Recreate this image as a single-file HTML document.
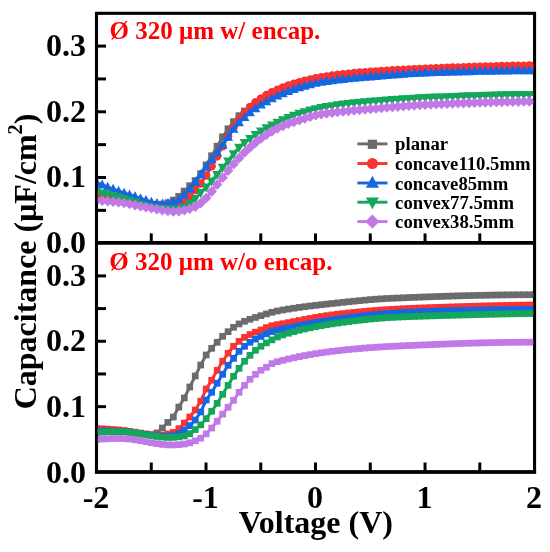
<!DOCTYPE html>
<html><head><meta charset="utf-8"><title>C-V</title>
<style>html,body{margin:0;padding:0;background:#fff}svg{display:block}</style>
</head><body>
<svg width="550" height="552" viewBox="0 0 550 552">
<defs><clipPath id="ca"><rect x="97.85" y="13.3" width="435.35" height="458.7"/></clipPath></defs>
<rect width="550" height="552" fill="#fff"/>
<g stroke="#000" stroke-width="3.1" fill="none" stroke-linecap="butt">
<rect x="96.5" y="13.3" width="438.05" height="458.70"/>
<line x1="94.95" y1="472.0" x2="536.0999999999999" y2="472.0" stroke-width="3.5"/>
<line x1="96.5" y1="242.9" x2="534.55" y2="242.9" stroke-width="3.7"/>
<line x1="96.5" y1="210.35" x2="106.0" y2="210.35" stroke-width="3"/>
<line x1="96.5" y1="177.50" x2="106.0" y2="177.50" stroke-width="3"/>
<line x1="96.5" y1="144.65" x2="106.0" y2="144.65" stroke-width="3"/>
<line x1="96.5" y1="111.80" x2="106.0" y2="111.80" stroke-width="3"/>
<line x1="96.5" y1="78.95" x2="106.0" y2="78.95" stroke-width="3"/>
<line x1="96.5" y1="46.10" x2="106.0" y2="46.10" stroke-width="3"/>
<line x1="96.5" y1="439.32" x2="106.0" y2="439.32" stroke-width="3"/>
<line x1="96.5" y1="406.64" x2="106.0" y2="406.64" stroke-width="3"/>
<line x1="96.5" y1="373.96" x2="106.0" y2="373.96" stroke-width="3"/>
<line x1="96.5" y1="341.28" x2="106.0" y2="341.28" stroke-width="3"/>
<line x1="96.5" y1="308.60" x2="106.0" y2="308.60" stroke-width="3"/>
<line x1="96.5" y1="275.92" x2="106.0" y2="275.92" stroke-width="3"/>
<line x1="151.26" y1="242.9" x2="151.26" y2="233.4" stroke-width="3"/>
<line x1="206.01" y1="242.9" x2="206.01" y2="233.4" stroke-width="3"/>
<line x1="260.77" y1="242.9" x2="260.77" y2="233.4" stroke-width="3"/>
<line x1="315.52" y1="242.9" x2="315.52" y2="233.4" stroke-width="3"/>
<line x1="370.28" y1="242.9" x2="370.28" y2="233.4" stroke-width="3"/>
<line x1="425.04" y1="242.9" x2="425.04" y2="233.4" stroke-width="3"/>
<line x1="479.79" y1="242.9" x2="479.79" y2="233.4" stroke-width="3"/>
<line x1="151.26" y1="472.0" x2="151.26" y2="462.5" stroke-width="3"/>
<line x1="206.01" y1="472.0" x2="206.01" y2="462.5" stroke-width="3"/>
<line x1="260.77" y1="472.0" x2="260.77" y2="462.5" stroke-width="3"/>
<line x1="315.52" y1="472.0" x2="315.52" y2="462.5" stroke-width="3"/>
<line x1="370.28" y1="472.0" x2="370.28" y2="462.5" stroke-width="3"/>
<line x1="425.04" y1="472.0" x2="425.04" y2="462.5" stroke-width="3"/>
<line x1="479.79" y1="472.0" x2="479.79" y2="462.5" stroke-width="3"/>
</g>
<g clip-path="url(#ca)">
<polyline fill="none" stroke="#6b6b6b" stroke-width="3.0" stroke-linejoin="round" points="96.70,193.47 102.18,193.97 107.65,194.60 113.12,195.34 118.60,196.17 124.08,197.08 129.55,198.05 135.03,199.40 140.50,201.18 145.97,202.97 151.45,204.36 156.93,204.91 162.40,204.34 167.88,202.87 173.35,200.20 178.83,196.48 184.30,191.21 189.78,185.84 195.25,180.73 200.73,173.73 206.20,165.04 211.68,155.88 217.15,146.41 222.62,136.99 228.10,128.89 233.58,121.83 239.05,115.81 244.53,111.11 250.00,107.84 255.48,105.18 260.95,102.61 266.43,99.56 271.90,96.31 277.38,93.33 282.85,90.99 288.33,88.86 293.80,86.84 299.28,84.99 304.75,83.30 310.23,81.81 315.70,80.55 321.18,79.52 326.65,78.64 332.12,77.84 337.60,77.11 343.08,76.45 348.55,75.85 354.03,75.29 359.50,74.77 364.98,74.28 370.45,73.81 375.93,73.35 381.40,72.90 386.88,72.47 392.35,72.06 397.83,71.67 403.30,71.30 408.78,70.95 414.25,70.64 419.73,70.35 425.20,70.10 430.68,69.88 436.15,69.68 441.62,69.47 447.10,69.27 452.58,69.07 458.05,68.88 463.53,68.69 469.00,68.52 474.48,68.34 479.95,68.18 485.43,68.03 490.90,67.89 496.38,67.76 501.85,67.65 507.33,67.55 512.80,67.47 518.28,67.40 523.75,67.35 529.23,67.32 534.70,67.31"/>
<g><rect x="93.20" y="189.97" width="7.00" height="7.00" fill="#6b6b6b"/><rect x="98.68" y="190.47" width="7.00" height="7.00" fill="#6b6b6b"/><rect x="104.15" y="191.10" width="7.00" height="7.00" fill="#6b6b6b"/><rect x="109.62" y="191.84" width="7.00" height="7.00" fill="#6b6b6b"/><rect x="115.10" y="192.67" width="7.00" height="7.00" fill="#6b6b6b"/><rect x="120.58" y="193.58" width="7.00" height="7.00" fill="#6b6b6b"/><rect x="126.05" y="194.55" width="7.00" height="7.00" fill="#6b6b6b"/><rect x="131.53" y="195.90" width="7.00" height="7.00" fill="#6b6b6b"/><rect x="137.00" y="197.68" width="7.00" height="7.00" fill="#6b6b6b"/><rect x="142.47" y="199.47" width="7.00" height="7.00" fill="#6b6b6b"/><rect x="147.95" y="200.86" width="7.00" height="7.00" fill="#6b6b6b"/><rect x="153.43" y="201.41" width="7.00" height="7.00" fill="#6b6b6b"/><rect x="158.90" y="200.84" width="7.00" height="7.00" fill="#6b6b6b"/><rect x="164.38" y="199.37" width="7.00" height="7.00" fill="#6b6b6b"/><rect x="169.85" y="196.70" width="7.00" height="7.00" fill="#6b6b6b"/><rect x="175.33" y="192.98" width="7.00" height="7.00" fill="#6b6b6b"/><rect x="180.80" y="187.71" width="7.00" height="7.00" fill="#6b6b6b"/><rect x="186.28" y="182.34" width="7.00" height="7.00" fill="#6b6b6b"/><rect x="191.75" y="177.23" width="7.00" height="7.00" fill="#6b6b6b"/><rect x="197.23" y="170.23" width="7.00" height="7.00" fill="#6b6b6b"/><rect x="202.70" y="161.54" width="7.00" height="7.00" fill="#6b6b6b"/><rect x="208.18" y="152.38" width="7.00" height="7.00" fill="#6b6b6b"/><rect x="213.65" y="142.91" width="7.00" height="7.00" fill="#6b6b6b"/><rect x="219.12" y="133.49" width="7.00" height="7.00" fill="#6b6b6b"/><rect x="224.60" y="125.39" width="7.00" height="7.00" fill="#6b6b6b"/><rect x="230.08" y="118.33" width="7.00" height="7.00" fill="#6b6b6b"/><rect x="235.55" y="112.31" width="7.00" height="7.00" fill="#6b6b6b"/><rect x="241.03" y="107.61" width="7.00" height="7.00" fill="#6b6b6b"/><rect x="246.50" y="104.34" width="7.00" height="7.00" fill="#6b6b6b"/><rect x="251.98" y="101.68" width="7.00" height="7.00" fill="#6b6b6b"/><rect x="257.45" y="99.11" width="7.00" height="7.00" fill="#6b6b6b"/><rect x="262.93" y="96.06" width="7.00" height="7.00" fill="#6b6b6b"/><rect x="268.40" y="92.81" width="7.00" height="7.00" fill="#6b6b6b"/><rect x="273.88" y="89.83" width="7.00" height="7.00" fill="#6b6b6b"/><rect x="279.35" y="87.49" width="7.00" height="7.00" fill="#6b6b6b"/><rect x="284.83" y="85.36" width="7.00" height="7.00" fill="#6b6b6b"/><rect x="290.30" y="83.34" width="7.00" height="7.00" fill="#6b6b6b"/><rect x="295.78" y="81.49" width="7.00" height="7.00" fill="#6b6b6b"/><rect x="301.25" y="79.80" width="7.00" height="7.00" fill="#6b6b6b"/><rect x="306.73" y="78.31" width="7.00" height="7.00" fill="#6b6b6b"/><rect x="312.20" y="77.05" width="7.00" height="7.00" fill="#6b6b6b"/><rect x="317.68" y="76.02" width="7.00" height="7.00" fill="#6b6b6b"/><rect x="323.15" y="75.14" width="7.00" height="7.00" fill="#6b6b6b"/><rect x="328.62" y="74.34" width="7.00" height="7.00" fill="#6b6b6b"/><rect x="334.10" y="73.61" width="7.00" height="7.00" fill="#6b6b6b"/><rect x="339.58" y="72.95" width="7.00" height="7.00" fill="#6b6b6b"/><rect x="345.05" y="72.35" width="7.00" height="7.00" fill="#6b6b6b"/><rect x="350.53" y="71.79" width="7.00" height="7.00" fill="#6b6b6b"/><rect x="356.00" y="71.27" width="7.00" height="7.00" fill="#6b6b6b"/><rect x="361.48" y="70.78" width="7.00" height="7.00" fill="#6b6b6b"/><rect x="366.95" y="70.31" width="7.00" height="7.00" fill="#6b6b6b"/><rect x="372.43" y="69.85" width="7.00" height="7.00" fill="#6b6b6b"/><rect x="377.90" y="69.40" width="7.00" height="7.00" fill="#6b6b6b"/><rect x="383.38" y="68.97" width="7.00" height="7.00" fill="#6b6b6b"/><rect x="388.85" y="68.56" width="7.00" height="7.00" fill="#6b6b6b"/><rect x="394.33" y="68.17" width="7.00" height="7.00" fill="#6b6b6b"/><rect x="399.80" y="67.80" width="7.00" height="7.00" fill="#6b6b6b"/><rect x="405.28" y="67.45" width="7.00" height="7.00" fill="#6b6b6b"/><rect x="410.75" y="67.14" width="7.00" height="7.00" fill="#6b6b6b"/><rect x="416.23" y="66.85" width="7.00" height="7.00" fill="#6b6b6b"/><rect x="421.70" y="66.60" width="7.00" height="7.00" fill="#6b6b6b"/><rect x="427.18" y="66.38" width="7.00" height="7.00" fill="#6b6b6b"/><rect x="432.65" y="66.18" width="7.00" height="7.00" fill="#6b6b6b"/><rect x="438.12" y="65.97" width="7.00" height="7.00" fill="#6b6b6b"/><rect x="443.60" y="65.77" width="7.00" height="7.00" fill="#6b6b6b"/><rect x="449.08" y="65.57" width="7.00" height="7.00" fill="#6b6b6b"/><rect x="454.55" y="65.38" width="7.00" height="7.00" fill="#6b6b6b"/><rect x="460.03" y="65.19" width="7.00" height="7.00" fill="#6b6b6b"/><rect x="465.50" y="65.02" width="7.00" height="7.00" fill="#6b6b6b"/><rect x="470.98" y="64.84" width="7.00" height="7.00" fill="#6b6b6b"/><rect x="476.45" y="64.68" width="7.00" height="7.00" fill="#6b6b6b"/><rect x="481.93" y="64.53" width="7.00" height="7.00" fill="#6b6b6b"/><rect x="487.40" y="64.39" width="7.00" height="7.00" fill="#6b6b6b"/><rect x="492.88" y="64.26" width="7.00" height="7.00" fill="#6b6b6b"/><rect x="498.35" y="64.15" width="7.00" height="7.00" fill="#6b6b6b"/><rect x="503.83" y="64.05" width="7.00" height="7.00" fill="#6b6b6b"/><rect x="509.30" y="63.97" width="7.00" height="7.00" fill="#6b6b6b"/><rect x="514.78" y="63.90" width="7.00" height="7.00" fill="#6b6b6b"/><rect x="520.25" y="63.85" width="7.00" height="7.00" fill="#6b6b6b"/><rect x="525.73" y="63.82" width="7.00" height="7.00" fill="#6b6b6b"/><rect x="531.20" y="63.81" width="7.00" height="7.00" fill="#6b6b6b"/></g>
<polyline fill="none" stroke="#fa3232" stroke-width="3.0" stroke-linejoin="round" points="96.70,194.13 102.18,195.23 107.65,196.33 113.12,197.42 118.60,198.50 124.08,199.59 129.55,200.66 135.03,201.85 140.50,203.12 145.97,204.22 151.45,204.91 156.93,205.30 162.40,205.54 167.88,205.40 173.35,204.48 178.83,202.89 184.30,200.79 189.78,196.28 195.25,190.01 200.73,183.47 206.20,175.43 211.68,166.28 217.15,156.21 222.62,146.38 228.10,136.51 233.58,127.22 239.05,119.11 244.53,112.60 250.00,107.04 255.48,102.29 260.95,98.36 266.43,95.04 271.90,92.15 277.38,89.64 282.85,87.45 288.33,85.51 293.80,83.78 299.28,82.22 304.75,80.78 310.23,79.45 315.70,78.25 321.18,77.23 326.65,76.34 332.12,75.53 337.60,74.81 343.08,74.17 348.55,73.59 354.03,73.06 359.50,72.57 364.98,72.13 370.45,71.72 375.93,71.34 381.40,70.97 386.88,70.62 392.35,70.28 397.83,69.96 403.30,69.65 408.78,69.36 414.25,69.09 419.73,68.83 425.20,68.59 430.68,68.38 436.15,68.17 441.62,67.96 447.10,67.76 452.58,67.56 458.05,67.36 463.53,67.17 469.00,66.99 474.48,66.81 479.95,66.64 485.43,66.48 490.90,66.33 496.38,66.18 501.85,66.05 507.33,65.92 512.80,65.81 518.28,65.71 523.75,65.62 529.23,65.54 534.70,65.48"/>
<g><circle cx="96.70" cy="194.13" r="4.20" fill="#fa3232"/><circle cx="102.18" cy="195.23" r="4.20" fill="#fa3232"/><circle cx="107.65" cy="196.33" r="4.20" fill="#fa3232"/><circle cx="113.12" cy="197.42" r="4.20" fill="#fa3232"/><circle cx="118.60" cy="198.50" r="4.20" fill="#fa3232"/><circle cx="124.08" cy="199.59" r="4.20" fill="#fa3232"/><circle cx="129.55" cy="200.66" r="4.20" fill="#fa3232"/><circle cx="135.03" cy="201.85" r="4.20" fill="#fa3232"/><circle cx="140.50" cy="203.12" r="4.20" fill="#fa3232"/><circle cx="145.97" cy="204.22" r="4.20" fill="#fa3232"/><circle cx="151.45" cy="204.91" r="4.20" fill="#fa3232"/><circle cx="156.93" cy="205.30" r="4.20" fill="#fa3232"/><circle cx="162.40" cy="205.54" r="4.20" fill="#fa3232"/><circle cx="167.88" cy="205.40" r="4.20" fill="#fa3232"/><circle cx="173.35" cy="204.48" r="4.20" fill="#fa3232"/><circle cx="178.83" cy="202.89" r="4.20" fill="#fa3232"/><circle cx="184.30" cy="200.79" r="4.20" fill="#fa3232"/><circle cx="189.78" cy="196.28" r="4.20" fill="#fa3232"/><circle cx="195.25" cy="190.01" r="4.20" fill="#fa3232"/><circle cx="200.73" cy="183.47" r="4.20" fill="#fa3232"/><circle cx="206.20" cy="175.43" r="4.20" fill="#fa3232"/><circle cx="211.68" cy="166.28" r="4.20" fill="#fa3232"/><circle cx="217.15" cy="156.21" r="4.20" fill="#fa3232"/><circle cx="222.62" cy="146.38" r="4.20" fill="#fa3232"/><circle cx="228.10" cy="136.51" r="4.20" fill="#fa3232"/><circle cx="233.58" cy="127.22" r="4.20" fill="#fa3232"/><circle cx="239.05" cy="119.11" r="4.20" fill="#fa3232"/><circle cx="244.53" cy="112.60" r="4.20" fill="#fa3232"/><circle cx="250.00" cy="107.04" r="4.20" fill="#fa3232"/><circle cx="255.48" cy="102.29" r="4.20" fill="#fa3232"/><circle cx="260.95" cy="98.36" r="4.20" fill="#fa3232"/><circle cx="266.43" cy="95.04" r="4.20" fill="#fa3232"/><circle cx="271.90" cy="92.15" r="4.20" fill="#fa3232"/><circle cx="277.38" cy="89.64" r="4.20" fill="#fa3232"/><circle cx="282.85" cy="87.45" r="4.20" fill="#fa3232"/><circle cx="288.33" cy="85.51" r="4.20" fill="#fa3232"/><circle cx="293.80" cy="83.78" r="4.20" fill="#fa3232"/><circle cx="299.28" cy="82.22" r="4.20" fill="#fa3232"/><circle cx="304.75" cy="80.78" r="4.20" fill="#fa3232"/><circle cx="310.23" cy="79.45" r="4.20" fill="#fa3232"/><circle cx="315.70" cy="78.25" r="4.20" fill="#fa3232"/><circle cx="321.18" cy="77.23" r="4.20" fill="#fa3232"/><circle cx="326.65" cy="76.34" r="4.20" fill="#fa3232"/><circle cx="332.12" cy="75.53" r="4.20" fill="#fa3232"/><circle cx="337.60" cy="74.81" r="4.20" fill="#fa3232"/><circle cx="343.08" cy="74.17" r="4.20" fill="#fa3232"/><circle cx="348.55" cy="73.59" r="4.20" fill="#fa3232"/><circle cx="354.03" cy="73.06" r="4.20" fill="#fa3232"/><circle cx="359.50" cy="72.57" r="4.20" fill="#fa3232"/><circle cx="364.98" cy="72.13" r="4.20" fill="#fa3232"/><circle cx="370.45" cy="71.72" r="4.20" fill="#fa3232"/><circle cx="375.93" cy="71.34" r="4.20" fill="#fa3232"/><circle cx="381.40" cy="70.97" r="4.20" fill="#fa3232"/><circle cx="386.88" cy="70.62" r="4.20" fill="#fa3232"/><circle cx="392.35" cy="70.28" r="4.20" fill="#fa3232"/><circle cx="397.83" cy="69.96" r="4.20" fill="#fa3232"/><circle cx="403.30" cy="69.65" r="4.20" fill="#fa3232"/><circle cx="408.78" cy="69.36" r="4.20" fill="#fa3232"/><circle cx="414.25" cy="69.09" r="4.20" fill="#fa3232"/><circle cx="419.73" cy="68.83" r="4.20" fill="#fa3232"/><circle cx="425.20" cy="68.59" r="4.20" fill="#fa3232"/><circle cx="430.68" cy="68.38" r="4.20" fill="#fa3232"/><circle cx="436.15" cy="68.17" r="4.20" fill="#fa3232"/><circle cx="441.62" cy="67.96" r="4.20" fill="#fa3232"/><circle cx="447.10" cy="67.76" r="4.20" fill="#fa3232"/><circle cx="452.58" cy="67.56" r="4.20" fill="#fa3232"/><circle cx="458.05" cy="67.36" r="4.20" fill="#fa3232"/><circle cx="463.53" cy="67.17" r="4.20" fill="#fa3232"/><circle cx="469.00" cy="66.99" r="4.20" fill="#fa3232"/><circle cx="474.48" cy="66.81" r="4.20" fill="#fa3232"/><circle cx="479.95" cy="66.64" r="4.20" fill="#fa3232"/><circle cx="485.43" cy="66.48" r="4.20" fill="#fa3232"/><circle cx="490.90" cy="66.33" r="4.20" fill="#fa3232"/><circle cx="496.38" cy="66.18" r="4.20" fill="#fa3232"/><circle cx="501.85" cy="66.05" r="4.20" fill="#fa3232"/><circle cx="507.33" cy="65.92" r="4.20" fill="#fa3232"/><circle cx="512.80" cy="65.81" r="4.20" fill="#fa3232"/><circle cx="518.28" cy="65.71" r="4.20" fill="#fa3232"/><circle cx="523.75" cy="65.62" r="4.20" fill="#fa3232"/><circle cx="529.23" cy="65.54" r="4.20" fill="#fa3232"/><circle cx="534.70" cy="65.48" r="4.20" fill="#fa3232"/></g>
<polyline fill="none" stroke="#1467e3" stroke-width="3.0" stroke-linejoin="round" points="96.70,182.69 102.18,184.93 107.65,187.09 113.12,189.16 118.60,191.14 124.08,193.02 129.55,194.78 135.03,196.62 140.50,198.59 145.97,200.50 151.45,202.15 156.93,203.36 162.40,203.91 167.88,203.50 173.35,202.04 178.83,199.87 184.30,195.24 189.78,188.86 195.25,182.25 200.73,174.75 206.20,167.00 211.68,159.74 217.15,152.55 222.62,145.13 228.10,137.06 233.58,129.21 239.05,122.66 244.53,117.38 250.00,112.72 255.48,108.60 260.95,104.92 266.43,101.60 271.90,98.61 277.38,95.94 282.85,93.55 288.33,91.39 293.80,89.44 299.28,87.67 304.75,86.05 310.23,84.52 315.70,83.19 321.18,82.13 326.65,81.28 332.12,80.54 337.60,79.88 343.08,79.27 348.55,78.70 354.03,78.16 359.50,77.67 364.98,77.20 370.45,76.75 375.93,76.30 381.40,75.85 386.88,75.40 392.35,74.95 397.83,74.52 403.30,74.11 408.78,73.73 414.25,73.39 419.73,73.08 425.20,72.83 430.68,72.63 436.15,72.46 441.62,72.29 447.10,72.12 452.58,71.96 458.05,71.80 463.53,71.65 469.00,71.51 474.48,71.37 479.95,71.24 485.43,71.13 490.90,71.02 496.38,70.92 501.85,70.83 507.33,70.76 512.80,70.69 518.28,70.64 523.75,70.61 529.23,70.58 534.70,70.58"/>
<g><path d="M96.70 177.30L101.60 186.31L91.80 186.31Z" fill="#1467e3"/><path d="M102.18 179.54L107.08 188.56L97.28 188.56Z" fill="#1467e3"/><path d="M107.65 181.70L112.55 190.72L102.75 190.72Z" fill="#1467e3"/><path d="M113.12 183.77L118.03 192.79L108.22 192.79Z" fill="#1467e3"/><path d="M118.60 185.75L123.50 194.77L113.70 194.77Z" fill="#1467e3"/><path d="M124.08 187.63L128.97 196.64L119.17 196.64Z" fill="#1467e3"/><path d="M129.55 189.39L134.45 198.41L124.65 198.41Z" fill="#1467e3"/><path d="M135.03 191.23L139.93 200.24L130.13 200.24Z" fill="#1467e3"/><path d="M140.50 193.20L145.40 202.21L135.60 202.21Z" fill="#1467e3"/><path d="M145.97 195.11L150.88 204.12L141.07 204.12Z" fill="#1467e3"/><path d="M151.45 196.76L156.35 205.78L146.55 205.78Z" fill="#1467e3"/><path d="M156.93 197.97L161.83 206.98L152.03 206.98Z" fill="#1467e3"/><path d="M162.40 198.52L167.30 207.54L157.50 207.54Z" fill="#1467e3"/><path d="M167.88 198.11L172.78 207.13L162.97 207.13Z" fill="#1467e3"/><path d="M173.35 196.65L178.25 205.67L168.45 205.67Z" fill="#1467e3"/><path d="M178.83 194.48L183.73 203.50L173.93 203.50Z" fill="#1467e3"/><path d="M184.30 189.85L189.20 198.86L179.40 198.86Z" fill="#1467e3"/><path d="M189.78 183.47L194.68 192.48L184.88 192.48Z" fill="#1467e3"/><path d="M195.25 176.86L200.15 185.88L190.35 185.88Z" fill="#1467e3"/><path d="M200.73 169.36L205.63 178.38L195.83 178.38Z" fill="#1467e3"/><path d="M206.20 161.61L211.10 170.63L201.30 170.63Z" fill="#1467e3"/><path d="M211.68 154.35L216.58 163.36L206.78 163.36Z" fill="#1467e3"/><path d="M217.15 147.16L222.05 156.17L212.25 156.17Z" fill="#1467e3"/><path d="M222.62 139.74L227.53 148.75L217.72 148.75Z" fill="#1467e3"/><path d="M228.10 131.67L233.00 140.69L223.20 140.69Z" fill="#1467e3"/><path d="M233.58 123.82L238.48 132.84L228.68 132.84Z" fill="#1467e3"/><path d="M239.05 117.27L243.95 126.29L234.15 126.29Z" fill="#1467e3"/><path d="M244.53 111.99L249.43 121.01L239.63 121.01Z" fill="#1467e3"/><path d="M250.00 107.33L254.90 116.35L245.10 116.35Z" fill="#1467e3"/><path d="M255.48 103.21L260.38 112.22L250.58 112.22Z" fill="#1467e3"/><path d="M260.95 99.53L265.85 108.54L256.05 108.54Z" fill="#1467e3"/><path d="M266.43 96.21L271.32 105.22L261.53 105.22Z" fill="#1467e3"/><path d="M271.90 93.22L276.80 102.24L267.00 102.24Z" fill="#1467e3"/><path d="M277.38 90.55L282.27 99.57L272.48 99.57Z" fill="#1467e3"/><path d="M282.85 88.16L287.75 97.18L277.95 97.18Z" fill="#1467e3"/><path d="M288.33 86.00L293.23 95.02L283.43 95.02Z" fill="#1467e3"/><path d="M293.80 84.05L298.70 93.06L288.90 93.06Z" fill="#1467e3"/><path d="M299.28 82.28L304.18 91.30L294.38 91.30Z" fill="#1467e3"/><path d="M304.75 80.66L309.65 89.67L299.85 89.67Z" fill="#1467e3"/><path d="M310.23 79.13L315.12 88.15L305.33 88.15Z" fill="#1467e3"/><path d="M315.70 77.80L320.60 86.82L310.80 86.82Z" fill="#1467e3"/><path d="M321.18 76.74L326.07 85.76L316.28 85.76Z" fill="#1467e3"/><path d="M326.65 75.89L331.55 84.90L321.75 84.90Z" fill="#1467e3"/><path d="M332.12 75.15L337.02 84.16L327.23 84.16Z" fill="#1467e3"/><path d="M337.60 74.49L342.50 83.51L332.70 83.51Z" fill="#1467e3"/><path d="M343.08 73.88L347.98 82.90L338.18 82.90Z" fill="#1467e3"/><path d="M348.55 73.31L353.45 82.32L343.65 82.32Z" fill="#1467e3"/><path d="M354.03 72.77L358.93 81.79L349.13 81.79Z" fill="#1467e3"/><path d="M359.50 72.28L364.40 81.29L354.60 81.29Z" fill="#1467e3"/><path d="M364.98 71.81L369.88 80.83L360.08 80.83Z" fill="#1467e3"/><path d="M370.45 71.36L375.35 80.38L365.55 80.38Z" fill="#1467e3"/><path d="M375.93 70.91L380.82 79.93L371.03 79.93Z" fill="#1467e3"/><path d="M381.40 70.46L386.30 79.48L376.50 79.48Z" fill="#1467e3"/><path d="M386.88 70.01L391.77 79.02L381.98 79.02Z" fill="#1467e3"/><path d="M392.35 69.56L397.25 78.58L387.45 78.58Z" fill="#1467e3"/><path d="M397.83 69.13L402.73 78.15L392.93 78.15Z" fill="#1467e3"/><path d="M403.30 68.72L408.20 77.74L398.40 77.74Z" fill="#1467e3"/><path d="M408.78 68.34L413.68 77.36L403.88 77.36Z" fill="#1467e3"/><path d="M414.25 68.00L419.15 77.01L409.35 77.01Z" fill="#1467e3"/><path d="M419.73 67.69L424.62 76.71L414.83 76.71Z" fill="#1467e3"/><path d="M425.20 67.44L430.10 76.46L420.30 76.46Z" fill="#1467e3"/><path d="M430.68 67.24L435.57 76.26L425.78 76.26Z" fill="#1467e3"/><path d="M436.15 67.07L441.05 76.08L431.25 76.08Z" fill="#1467e3"/><path d="M441.62 66.90L446.52 75.91L436.73 75.91Z" fill="#1467e3"/><path d="M447.10 66.73L452.00 75.74L442.20 75.74Z" fill="#1467e3"/><path d="M452.58 66.57L457.48 75.58L447.68 75.58Z" fill="#1467e3"/><path d="M458.05 66.41L462.95 75.42L453.15 75.42Z" fill="#1467e3"/><path d="M463.53 66.26L468.43 75.27L458.63 75.27Z" fill="#1467e3"/><path d="M469.00 66.12L473.90 75.13L464.10 75.13Z" fill="#1467e3"/><path d="M474.48 65.98L479.38 75.00L469.58 75.00Z" fill="#1467e3"/><path d="M479.95 65.85L484.85 74.87L475.05 74.87Z" fill="#1467e3"/><path d="M485.43 65.74L490.32 74.75L480.53 74.75Z" fill="#1467e3"/><path d="M490.90 65.63L495.80 74.64L486.00 74.64Z" fill="#1467e3"/><path d="M496.38 65.53L501.28 74.55L491.48 74.55Z" fill="#1467e3"/><path d="M501.85 65.44L506.75 74.46L496.95 74.46Z" fill="#1467e3"/><path d="M507.33 65.37L512.23 74.38L502.43 74.38Z" fill="#1467e3"/><path d="M512.80 65.30L517.70 74.32L507.90 74.32Z" fill="#1467e3"/><path d="M518.28 65.25L523.18 74.27L513.38 74.27Z" fill="#1467e3"/><path d="M523.75 65.22L528.65 74.23L518.85 74.23Z" fill="#1467e3"/><path d="M529.23 65.19L534.13 74.21L524.33 74.21Z" fill="#1467e3"/><path d="M534.70 65.19L539.60 74.20L529.80 74.20Z" fill="#1467e3"/></g>
<polyline fill="none" stroke="#14a65a" stroke-width="3.0" stroke-linejoin="round" points="96.70,192.17 102.18,193.11 107.65,194.26 113.12,195.69 118.60,197.26 124.08,198.77 129.55,200.34 135.03,202.22 140.50,204.33 145.97,206.23 151.45,207.53 156.93,208.23 162.40,208.74 167.88,209.22 173.35,209.49 178.83,209.06 184.30,207.71 189.78,203.67 195.25,198.64 200.73,192.58 206.20,187.17 211.68,181.06 217.15,174.57 222.62,167.47 228.10,161.02 233.58,153.78 239.05,147.33 244.53,142.71 250.00,138.64 255.48,134.67 260.95,131.09 266.43,127.99 271.90,125.13 277.38,122.46 282.85,119.94 288.33,117.54 293.80,115.36 299.28,113.45 304.75,111.76 310.23,110.20 315.70,108.82 321.18,107.70 326.65,106.70 332.12,105.79 337.60,104.97 343.08,104.24 348.55,103.58 354.03,102.98 359.50,102.43 364.98,101.93 370.45,101.46 375.93,101.01 381.40,100.57 386.88,100.14 392.35,99.73 397.83,99.33 403.30,98.96 408.78,98.60 414.25,98.27 419.73,97.97 425.20,97.70 430.68,97.46 436.15,97.24 441.62,97.01 447.10,96.79 452.58,96.57 458.05,96.36 463.53,96.15 469.00,95.96 474.48,95.76 479.95,95.58 485.43,95.41 490.90,95.25 496.38,95.10 501.85,94.97 507.33,94.85 512.80,94.75 518.28,94.66 523.75,94.59 529.23,94.54 534.70,94.50"/>
<g><path d="M96.70 197.56L101.60 188.54L91.80 188.54Z" fill="#14a65a"/><path d="M102.18 198.50L107.08 189.48L97.28 189.48Z" fill="#14a65a"/><path d="M107.65 199.65L112.55 190.63L102.75 190.63Z" fill="#14a65a"/><path d="M113.12 201.08L118.03 192.06L108.22 192.06Z" fill="#14a65a"/><path d="M118.60 202.65L123.50 193.64L113.70 193.64Z" fill="#14a65a"/><path d="M124.08 204.16L128.97 195.14L119.17 195.14Z" fill="#14a65a"/><path d="M129.55 205.73L134.45 196.71L124.65 196.71Z" fill="#14a65a"/><path d="M135.03 207.61L139.93 198.60L130.13 198.60Z" fill="#14a65a"/><path d="M140.50 209.72L145.40 200.70L135.60 200.70Z" fill="#14a65a"/><path d="M145.97 211.62L150.88 202.61L141.07 202.61Z" fill="#14a65a"/><path d="M151.45 212.92L156.35 203.90L146.55 203.90Z" fill="#14a65a"/><path d="M156.93 213.62L161.83 204.61L152.03 204.61Z" fill="#14a65a"/><path d="M162.40 214.13L167.30 205.12L157.50 205.12Z" fill="#14a65a"/><path d="M167.88 214.61L172.78 205.59L162.97 205.59Z" fill="#14a65a"/><path d="M173.35 214.88L178.25 205.86L168.45 205.86Z" fill="#14a65a"/><path d="M178.83 214.45L183.73 205.44L173.93 205.44Z" fill="#14a65a"/><path d="M184.30 213.10L189.20 204.09L179.40 204.09Z" fill="#14a65a"/><path d="M189.78 209.06L194.68 200.04L184.88 200.04Z" fill="#14a65a"/><path d="M195.25 204.03L200.15 195.02L190.35 195.02Z" fill="#14a65a"/><path d="M200.73 197.97L205.63 188.95L195.83 188.95Z" fill="#14a65a"/><path d="M206.20 192.56L211.10 183.54L201.30 183.54Z" fill="#14a65a"/><path d="M211.68 186.45L216.58 177.43L206.78 177.43Z" fill="#14a65a"/><path d="M217.15 179.96L222.05 170.94L212.25 170.94Z" fill="#14a65a"/><path d="M222.62 172.86L227.53 163.84L217.72 163.84Z" fill="#14a65a"/><path d="M228.10 166.41L233.00 157.40L223.20 157.40Z" fill="#14a65a"/><path d="M233.58 159.17L238.48 150.16L228.68 150.16Z" fill="#14a65a"/><path d="M239.05 152.72L243.95 143.71L234.15 143.71Z" fill="#14a65a"/><path d="M244.53 148.10L249.43 139.09L239.63 139.09Z" fill="#14a65a"/><path d="M250.00 144.03L254.90 135.01L245.10 135.01Z" fill="#14a65a"/><path d="M255.48 140.06L260.38 131.04L250.58 131.04Z" fill="#14a65a"/><path d="M260.95 136.48L265.85 127.47L256.05 127.47Z" fill="#14a65a"/><path d="M266.43 133.38L271.32 124.36L261.53 124.36Z" fill="#14a65a"/><path d="M271.90 130.52L276.80 121.50L267.00 121.50Z" fill="#14a65a"/><path d="M277.38 127.85L282.27 118.83L272.48 118.83Z" fill="#14a65a"/><path d="M282.85 125.33L287.75 116.32L277.95 116.32Z" fill="#14a65a"/><path d="M288.33 122.93L293.23 113.91L283.43 113.91Z" fill="#14a65a"/><path d="M293.80 120.75L298.70 111.73L288.90 111.73Z" fill="#14a65a"/><path d="M299.28 118.84L304.18 109.83L294.38 109.83Z" fill="#14a65a"/><path d="M304.75 117.15L309.65 108.13L299.85 108.13Z" fill="#14a65a"/><path d="M310.23 115.59L315.12 106.58L305.33 106.58Z" fill="#14a65a"/><path d="M315.70 114.21L320.60 105.20L310.80 105.20Z" fill="#14a65a"/><path d="M321.18 113.09L326.07 104.08L316.28 104.08Z" fill="#14a65a"/><path d="M326.65 112.09L331.55 103.07L321.75 103.07Z" fill="#14a65a"/><path d="M332.12 111.18L337.02 102.16L327.23 102.16Z" fill="#14a65a"/><path d="M337.60 110.36L342.50 101.35L332.70 101.35Z" fill="#14a65a"/><path d="M343.08 109.63L347.98 100.62L338.18 100.62Z" fill="#14a65a"/><path d="M348.55 108.97L353.45 99.96L343.65 99.96Z" fill="#14a65a"/><path d="M354.03 108.37L358.93 99.36L349.13 99.36Z" fill="#14a65a"/><path d="M359.50 107.82L364.40 98.81L354.60 98.81Z" fill="#14a65a"/><path d="M364.98 107.32L369.88 98.30L360.08 98.30Z" fill="#14a65a"/><path d="M370.45 106.85L375.35 97.83L365.55 97.83Z" fill="#14a65a"/><path d="M375.93 106.40L380.82 97.38L371.03 97.38Z" fill="#14a65a"/><path d="M381.40 105.96L386.30 96.94L376.50 96.94Z" fill="#14a65a"/><path d="M386.88 105.53L391.77 96.52L381.98 96.52Z" fill="#14a65a"/><path d="M392.35 105.12L397.25 96.10L387.45 96.10Z" fill="#14a65a"/><path d="M397.83 104.72L402.73 95.71L392.93 95.71Z" fill="#14a65a"/><path d="M403.30 104.35L408.20 95.33L398.40 95.33Z" fill="#14a65a"/><path d="M408.78 103.99L413.68 94.98L403.88 94.98Z" fill="#14a65a"/><path d="M414.25 103.66L419.15 94.65L409.35 94.65Z" fill="#14a65a"/><path d="M419.73 103.36L424.62 94.35L414.83 94.35Z" fill="#14a65a"/><path d="M425.20 103.09L430.10 94.08L420.30 94.08Z" fill="#14a65a"/><path d="M430.68 102.85L435.57 93.84L425.78 93.84Z" fill="#14a65a"/><path d="M436.15 102.63L441.05 93.61L431.25 93.61Z" fill="#14a65a"/><path d="M441.62 102.40L446.52 93.39L436.73 93.39Z" fill="#14a65a"/><path d="M447.10 102.18L452.00 93.16L442.20 93.16Z" fill="#14a65a"/><path d="M452.58 101.96L457.48 92.95L447.68 92.95Z" fill="#14a65a"/><path d="M458.05 101.75L462.95 92.73L453.15 92.73Z" fill="#14a65a"/><path d="M463.53 101.54L468.43 92.53L458.63 92.53Z" fill="#14a65a"/><path d="M469.00 101.35L473.90 92.33L464.10 92.33Z" fill="#14a65a"/><path d="M474.48 101.15L479.38 92.14L469.58 92.14Z" fill="#14a65a"/><path d="M479.95 100.97L484.85 91.96L475.05 91.96Z" fill="#14a65a"/><path d="M485.43 100.80L490.32 91.79L480.53 91.79Z" fill="#14a65a"/><path d="M490.90 100.64L495.80 91.63L486.00 91.63Z" fill="#14a65a"/><path d="M496.38 100.49L501.28 91.48L491.48 91.48Z" fill="#14a65a"/><path d="M501.85 100.36L506.75 91.34L496.95 91.34Z" fill="#14a65a"/><path d="M507.33 100.24L512.23 91.22L502.43 91.22Z" fill="#14a65a"/><path d="M512.80 100.14L517.70 91.12L507.90 91.12Z" fill="#14a65a"/><path d="M518.28 100.05L523.18 91.03L513.38 91.03Z" fill="#14a65a"/><path d="M523.75 99.98L528.65 90.96L518.85 90.96Z" fill="#14a65a"/><path d="M529.23 99.93L534.13 90.91L524.33 90.91Z" fill="#14a65a"/><path d="M534.70 99.89L539.60 90.88L529.80 90.88Z" fill="#14a65a"/></g>
<polyline fill="none" stroke="#c079e6" stroke-width="3.0" stroke-linejoin="round" points="96.70,200.34 102.18,200.69 107.65,201.14 113.12,201.68 118.60,202.30 124.08,203.06 129.55,204.03 135.03,205.11 140.50,206.23 145.97,207.30 151.45,208.25 156.93,209.20 162.40,210.20 167.88,211.02 173.35,211.44 178.83,211.17 184.30,210.21 189.78,208.81 195.25,206.65 200.73,203.09 206.20,198.07 211.68,191.41 217.15,184.52 222.62,177.64 228.10,170.62 233.58,164.16 239.05,158.15 244.53,152.56 250.00,147.42 255.48,142.67 260.95,138.51 266.43,134.77 271.90,131.35 277.38,128.37 282.85,125.89 288.33,123.79 293.80,121.92 299.28,120.17 304.75,118.44 310.23,116.75 315.70,115.27 321.18,114.17 326.65,113.33 332.12,112.63 337.60,112.02 343.08,111.43 348.55,110.87 354.03,110.34 359.50,109.85 364.98,109.37 370.45,108.91 375.93,108.45 381.40,107.98 386.88,107.51 392.35,107.04 397.83,106.58 403.30,106.15 408.78,105.74 414.25,105.36 419.73,105.01 425.20,104.71 430.68,104.46 436.15,104.22 441.62,103.99 447.10,103.76 452.58,103.53 458.05,103.31 463.53,103.09 469.00,102.89 474.48,102.69 479.95,102.51 485.43,102.33 490.90,102.17 496.38,102.02 501.85,101.89 507.33,101.78 512.80,101.68 518.28,101.60 523.75,101.54 529.23,101.51 534.70,101.50"/>
<g><path d="M96.70 195.04L102.00 200.34L96.70 205.64L91.40 200.34Z" fill="#c079e6"/><path d="M102.18 195.39L107.48 200.69L102.18 205.99L96.88 200.69Z" fill="#c079e6"/><path d="M107.65 195.84L112.95 201.14L107.65 206.44L102.35 201.14Z" fill="#c079e6"/><path d="M113.12 196.38L118.42 201.68L113.12 206.98L107.83 201.68Z" fill="#c079e6"/><path d="M118.60 197.00L123.90 202.30L118.60 207.60L113.30 202.30Z" fill="#c079e6"/><path d="M124.08 197.76L129.38 203.06L124.08 208.36L118.78 203.06Z" fill="#c079e6"/><path d="M129.55 198.73L134.85 204.03L129.55 209.33L124.25 204.03Z" fill="#c079e6"/><path d="M135.03 199.81L140.33 205.11L135.03 210.41L129.73 205.11Z" fill="#c079e6"/><path d="M140.50 200.93L145.80 206.23L140.50 211.53L135.20 206.23Z" fill="#c079e6"/><path d="M145.97 202.00L151.28 207.30L145.97 212.60L140.67 207.30Z" fill="#c079e6"/><path d="M151.45 202.95L156.75 208.25L151.45 213.55L146.15 208.25Z" fill="#c079e6"/><path d="M156.93 203.90L162.23 209.20L156.93 214.50L151.62 209.20Z" fill="#c079e6"/><path d="M162.40 204.90L167.70 210.20L162.40 215.50L157.10 210.20Z" fill="#c079e6"/><path d="M167.88 205.72L173.18 211.02L167.88 216.32L162.57 211.02Z" fill="#c079e6"/><path d="M173.35 206.14L178.65 211.44L173.35 216.74L168.05 211.44Z" fill="#c079e6"/><path d="M178.83 205.87L184.13 211.17L178.83 216.47L173.53 211.17Z" fill="#c079e6"/><path d="M184.30 204.91L189.60 210.21L184.30 215.51L179.00 210.21Z" fill="#c079e6"/><path d="M189.78 203.51L195.08 208.81L189.78 214.11L184.48 208.81Z" fill="#c079e6"/><path d="M195.25 201.35L200.55 206.65L195.25 211.95L189.95 206.65Z" fill="#c079e6"/><path d="M200.73 197.79L206.03 203.09L200.73 208.39L195.43 203.09Z" fill="#c079e6"/><path d="M206.20 192.77L211.50 198.07L206.20 203.37L200.90 198.07Z" fill="#c079e6"/><path d="M211.68 186.11L216.98 191.41L211.68 196.71L206.38 191.41Z" fill="#c079e6"/><path d="M217.15 179.22L222.45 184.52L217.15 189.82L211.85 184.52Z" fill="#c079e6"/><path d="M222.62 172.34L227.93 177.64L222.62 182.94L217.32 177.64Z" fill="#c079e6"/><path d="M228.10 165.32L233.40 170.62L228.10 175.92L222.80 170.62Z" fill="#c079e6"/><path d="M233.58 158.86L238.88 164.16L233.58 169.46L228.28 164.16Z" fill="#c079e6"/><path d="M239.05 152.85L244.35 158.15L239.05 163.45L233.75 158.15Z" fill="#c079e6"/><path d="M244.53 147.26L249.83 152.56L244.53 157.86L239.23 152.56Z" fill="#c079e6"/><path d="M250.00 142.12L255.30 147.42L250.00 152.72L244.70 147.42Z" fill="#c079e6"/><path d="M255.48 137.37L260.78 142.67L255.48 147.97L250.18 142.67Z" fill="#c079e6"/><path d="M260.95 133.21L266.25 138.51L260.95 143.81L255.65 138.51Z" fill="#c079e6"/><path d="M266.43 129.47L271.73 134.77L266.43 140.07L261.12 134.77Z" fill="#c079e6"/><path d="M271.90 126.05L277.20 131.35L271.90 136.65L266.60 131.35Z" fill="#c079e6"/><path d="M277.38 123.07L282.68 128.37L277.38 133.67L272.07 128.37Z" fill="#c079e6"/><path d="M282.85 120.59L288.15 125.89L282.85 131.19L277.55 125.89Z" fill="#c079e6"/><path d="M288.33 118.49L293.63 123.79L288.33 129.09L283.03 123.79Z" fill="#c079e6"/><path d="M293.80 116.62L299.10 121.92L293.80 127.22L288.50 121.92Z" fill="#c079e6"/><path d="M299.28 114.87L304.58 120.17L299.28 125.47L293.98 120.17Z" fill="#c079e6"/><path d="M304.75 113.14L310.05 118.44L304.75 123.74L299.45 118.44Z" fill="#c079e6"/><path d="M310.23 111.45L315.53 116.75L310.23 122.05L304.93 116.75Z" fill="#c079e6"/><path d="M315.70 109.97L321.00 115.27L315.70 120.57L310.40 115.27Z" fill="#c079e6"/><path d="M321.18 108.87L326.48 114.17L321.18 119.47L315.88 114.17Z" fill="#c079e6"/><path d="M326.65 108.03L331.95 113.33L326.65 118.63L321.35 113.33Z" fill="#c079e6"/><path d="M332.12 107.33L337.43 112.63L332.12 117.93L326.82 112.63Z" fill="#c079e6"/><path d="M337.60 106.72L342.90 112.02L337.60 117.32L332.30 112.02Z" fill="#c079e6"/><path d="M343.08 106.13L348.38 111.43L343.08 116.73L337.78 111.43Z" fill="#c079e6"/><path d="M348.55 105.57L353.85 110.87L348.55 116.17L343.25 110.87Z" fill="#c079e6"/><path d="M354.03 105.04L359.33 110.34L354.03 115.64L348.73 110.34Z" fill="#c079e6"/><path d="M359.50 104.55L364.80 109.85L359.50 115.15L354.20 109.85Z" fill="#c079e6"/><path d="M364.98 104.07L370.28 109.37L364.98 114.67L359.68 109.37Z" fill="#c079e6"/><path d="M370.45 103.61L375.75 108.91L370.45 114.21L365.15 108.91Z" fill="#c079e6"/><path d="M375.93 103.15L381.23 108.45L375.93 113.75L370.62 108.45Z" fill="#c079e6"/><path d="M381.40 102.68L386.70 107.98L381.40 113.28L376.10 107.98Z" fill="#c079e6"/><path d="M386.88 102.21L392.18 107.51L386.88 112.81L381.57 107.51Z" fill="#c079e6"/><path d="M392.35 101.74L397.65 107.04L392.35 112.34L387.05 107.04Z" fill="#c079e6"/><path d="M397.83 101.28L403.13 106.58L397.83 111.88L392.53 106.58Z" fill="#c079e6"/><path d="M403.30 100.85L408.60 106.15L403.30 111.45L398.00 106.15Z" fill="#c079e6"/><path d="M408.78 100.44L414.08 105.74L408.78 111.04L403.48 105.74Z" fill="#c079e6"/><path d="M414.25 100.06L419.55 105.36L414.25 110.66L408.95 105.36Z" fill="#c079e6"/><path d="M419.73 99.71L425.03 105.01L419.73 110.31L414.43 105.01Z" fill="#c079e6"/><path d="M425.20 99.41L430.50 104.71L425.20 110.01L419.90 104.71Z" fill="#c079e6"/><path d="M430.68 99.16L435.98 104.46L430.68 109.76L425.38 104.46Z" fill="#c079e6"/><path d="M436.15 98.92L441.45 104.22L436.15 109.52L430.85 104.22Z" fill="#c079e6"/><path d="M441.62 98.69L446.93 103.99L441.62 109.29L436.32 103.99Z" fill="#c079e6"/><path d="M447.10 98.46L452.40 103.76L447.10 109.06L441.80 103.76Z" fill="#c079e6"/><path d="M452.58 98.23L457.88 103.53L452.58 108.83L447.28 103.53Z" fill="#c079e6"/><path d="M458.05 98.01L463.35 103.31L458.05 108.61L452.75 103.31Z" fill="#c079e6"/><path d="M463.53 97.79L468.83 103.09L463.53 108.39L458.23 103.09Z" fill="#c079e6"/><path d="M469.00 97.59L474.30 102.89L469.00 108.19L463.70 102.89Z" fill="#c079e6"/><path d="M474.48 97.39L479.78 102.69L474.48 107.99L469.18 102.69Z" fill="#c079e6"/><path d="M479.95 97.21L485.25 102.51L479.95 107.81L474.65 102.51Z" fill="#c079e6"/><path d="M485.43 97.03L490.73 102.33L485.43 107.63L480.12 102.33Z" fill="#c079e6"/><path d="M490.90 96.87L496.20 102.17L490.90 107.47L485.60 102.17Z" fill="#c079e6"/><path d="M496.38 96.72L501.68 102.02L496.38 107.32L491.08 102.02Z" fill="#c079e6"/><path d="M501.85 96.59L507.15 101.89L501.85 107.19L496.55 101.89Z" fill="#c079e6"/><path d="M507.33 96.48L512.62 101.78L507.33 107.08L502.03 101.78Z" fill="#c079e6"/><path d="M512.80 96.38L518.10 101.68L512.80 106.98L507.50 101.68Z" fill="#c079e6"/><path d="M518.28 96.30L523.58 101.60L518.28 106.90L512.98 101.60Z" fill="#c079e6"/><path d="M523.75 96.24L529.05 101.54L523.75 106.84L518.45 101.54Z" fill="#c079e6"/><path d="M529.23 96.21L534.53 101.51L529.23 106.81L523.93 101.51Z" fill="#c079e6"/><path d="M534.70 96.20L540.00 101.50L534.70 106.80L529.40 101.50Z" fill="#c079e6"/></g>
</g>
<g clip-path="url(#ca)">
<polyline fill="none" stroke="#6b6b6b" stroke-width="3.0" stroke-linejoin="round" points="96.70,431.27 102.18,431.27 107.65,431.27 113.12,431.27 118.60,431.27 124.08,431.56 129.55,432.29 135.03,433.23 140.50,434.18 145.97,434.90 151.45,435.19 156.93,432.97 162.40,428.00 167.88,422.38 173.35,417.02 178.83,407.08 184.30,398.00 189.78,387.02 195.25,375.97 200.73,364.99 206.20,354.98 211.68,348.32 217.15,342.30 222.62,336.29 228.10,331.71 233.58,327.33 239.05,323.93 244.53,321.32 250.00,319.29 255.48,317.45 260.95,315.70 266.43,313.92 271.90,312.30 277.38,310.98 282.85,309.97 288.33,309.06 293.80,308.22 299.28,307.43 304.75,306.69 310.23,306.00 315.70,305.34 321.18,304.71 326.65,304.10 332.12,303.51 337.60,302.93 343.08,302.35 348.55,301.77 354.03,301.20 359.50,300.65 364.98,300.13 370.45,299.64 375.93,299.21 381.40,298.83 386.88,298.52 392.35,298.27 397.83,298.04 403.30,297.81 408.78,297.59 414.25,297.38 419.73,297.17 425.20,296.96 430.68,296.77 436.15,296.57 441.62,296.39 447.10,296.22 452.58,296.05 458.05,295.89 463.53,295.74 469.00,295.59 474.48,295.46 479.95,295.34 485.43,295.22 490.90,295.12 496.38,295.03 501.85,294.95 507.33,294.88 512.80,294.82 518.28,294.77 523.75,294.74 529.23,294.72 534.70,294.71"/>
<g><rect x="93.35" y="427.92" width="6.70" height="6.70" fill="#6b6b6b"/><rect x="98.83" y="427.92" width="6.70" height="6.70" fill="#6b6b6b"/><rect x="104.30" y="427.92" width="6.70" height="6.70" fill="#6b6b6b"/><rect x="109.78" y="427.92" width="6.70" height="6.70" fill="#6b6b6b"/><rect x="115.25" y="427.92" width="6.70" height="6.70" fill="#6b6b6b"/><rect x="120.73" y="428.21" width="6.70" height="6.70" fill="#6b6b6b"/><rect x="126.20" y="428.94" width="6.70" height="6.70" fill="#6b6b6b"/><rect x="131.68" y="429.88" width="6.70" height="6.70" fill="#6b6b6b"/><rect x="137.15" y="430.83" width="6.70" height="6.70" fill="#6b6b6b"/><rect x="142.62" y="431.55" width="6.70" height="6.70" fill="#6b6b6b"/><rect x="148.10" y="431.84" width="6.70" height="6.70" fill="#6b6b6b"/><rect x="153.58" y="429.62" width="6.70" height="6.70" fill="#6b6b6b"/><rect x="159.05" y="424.65" width="6.70" height="6.70" fill="#6b6b6b"/><rect x="164.53" y="419.03" width="6.70" height="6.70" fill="#6b6b6b"/><rect x="170.00" y="413.67" width="6.70" height="6.70" fill="#6b6b6b"/><rect x="175.48" y="403.73" width="6.70" height="6.70" fill="#6b6b6b"/><rect x="180.95" y="394.65" width="6.70" height="6.70" fill="#6b6b6b"/><rect x="186.43" y="383.67" width="6.70" height="6.70" fill="#6b6b6b"/><rect x="191.90" y="372.62" width="6.70" height="6.70" fill="#6b6b6b"/><rect x="197.38" y="361.64" width="6.70" height="6.70" fill="#6b6b6b"/><rect x="202.85" y="351.63" width="6.70" height="6.70" fill="#6b6b6b"/><rect x="208.33" y="344.97" width="6.70" height="6.70" fill="#6b6b6b"/><rect x="213.80" y="338.95" width="6.70" height="6.70" fill="#6b6b6b"/><rect x="219.28" y="332.94" width="6.70" height="6.70" fill="#6b6b6b"/><rect x="224.75" y="328.36" width="6.70" height="6.70" fill="#6b6b6b"/><rect x="230.23" y="323.98" width="6.70" height="6.70" fill="#6b6b6b"/><rect x="235.70" y="320.58" width="6.70" height="6.70" fill="#6b6b6b"/><rect x="241.18" y="317.97" width="6.70" height="6.70" fill="#6b6b6b"/><rect x="246.65" y="315.94" width="6.70" height="6.70" fill="#6b6b6b"/><rect x="252.13" y="314.10" width="6.70" height="6.70" fill="#6b6b6b"/><rect x="257.60" y="312.35" width="6.70" height="6.70" fill="#6b6b6b"/><rect x="263.07" y="310.57" width="6.70" height="6.70" fill="#6b6b6b"/><rect x="268.55" y="308.95" width="6.70" height="6.70" fill="#6b6b6b"/><rect x="274.02" y="307.63" width="6.70" height="6.70" fill="#6b6b6b"/><rect x="279.50" y="306.62" width="6.70" height="6.70" fill="#6b6b6b"/><rect x="284.98" y="305.71" width="6.70" height="6.70" fill="#6b6b6b"/><rect x="290.45" y="304.87" width="6.70" height="6.70" fill="#6b6b6b"/><rect x="295.93" y="304.08" width="6.70" height="6.70" fill="#6b6b6b"/><rect x="301.40" y="303.34" width="6.70" height="6.70" fill="#6b6b6b"/><rect x="306.88" y="302.65" width="6.70" height="6.70" fill="#6b6b6b"/><rect x="312.35" y="301.99" width="6.70" height="6.70" fill="#6b6b6b"/><rect x="317.82" y="301.36" width="6.70" height="6.70" fill="#6b6b6b"/><rect x="323.30" y="300.75" width="6.70" height="6.70" fill="#6b6b6b"/><rect x="328.77" y="300.16" width="6.70" height="6.70" fill="#6b6b6b"/><rect x="334.25" y="299.58" width="6.70" height="6.70" fill="#6b6b6b"/><rect x="339.73" y="299.00" width="6.70" height="6.70" fill="#6b6b6b"/><rect x="345.20" y="298.42" width="6.70" height="6.70" fill="#6b6b6b"/><rect x="350.68" y="297.85" width="6.70" height="6.70" fill="#6b6b6b"/><rect x="356.15" y="297.30" width="6.70" height="6.70" fill="#6b6b6b"/><rect x="361.62" y="296.78" width="6.70" height="6.70" fill="#6b6b6b"/><rect x="367.10" y="296.29" width="6.70" height="6.70" fill="#6b6b6b"/><rect x="372.57" y="295.86" width="6.70" height="6.70" fill="#6b6b6b"/><rect x="378.05" y="295.48" width="6.70" height="6.70" fill="#6b6b6b"/><rect x="383.52" y="295.17" width="6.70" height="6.70" fill="#6b6b6b"/><rect x="389.00" y="294.92" width="6.70" height="6.70" fill="#6b6b6b"/><rect x="394.48" y="294.69" width="6.70" height="6.70" fill="#6b6b6b"/><rect x="399.95" y="294.46" width="6.70" height="6.70" fill="#6b6b6b"/><rect x="405.43" y="294.24" width="6.70" height="6.70" fill="#6b6b6b"/><rect x="410.90" y="294.03" width="6.70" height="6.70" fill="#6b6b6b"/><rect x="416.38" y="293.82" width="6.70" height="6.70" fill="#6b6b6b"/><rect x="421.85" y="293.61" width="6.70" height="6.70" fill="#6b6b6b"/><rect x="427.32" y="293.42" width="6.70" height="6.70" fill="#6b6b6b"/><rect x="432.80" y="293.22" width="6.70" height="6.70" fill="#6b6b6b"/><rect x="438.27" y="293.04" width="6.70" height="6.70" fill="#6b6b6b"/><rect x="443.75" y="292.87" width="6.70" height="6.70" fill="#6b6b6b"/><rect x="449.23" y="292.70" width="6.70" height="6.70" fill="#6b6b6b"/><rect x="454.70" y="292.54" width="6.70" height="6.70" fill="#6b6b6b"/><rect x="460.18" y="292.39" width="6.70" height="6.70" fill="#6b6b6b"/><rect x="465.65" y="292.24" width="6.70" height="6.70" fill="#6b6b6b"/><rect x="471.13" y="292.11" width="6.70" height="6.70" fill="#6b6b6b"/><rect x="476.60" y="291.99" width="6.70" height="6.70" fill="#6b6b6b"/><rect x="482.07" y="291.87" width="6.70" height="6.70" fill="#6b6b6b"/><rect x="487.55" y="291.77" width="6.70" height="6.70" fill="#6b6b6b"/><rect x="493.03" y="291.68" width="6.70" height="6.70" fill="#6b6b6b"/><rect x="498.50" y="291.60" width="6.70" height="6.70" fill="#6b6b6b"/><rect x="503.98" y="291.53" width="6.70" height="6.70" fill="#6b6b6b"/><rect x="509.45" y="291.47" width="6.70" height="6.70" fill="#6b6b6b"/><rect x="514.93" y="291.42" width="6.70" height="6.70" fill="#6b6b6b"/><rect x="520.40" y="291.39" width="6.70" height="6.70" fill="#6b6b6b"/><rect x="525.88" y="291.37" width="6.70" height="6.70" fill="#6b6b6b"/><rect x="531.35" y="291.36" width="6.70" height="6.70" fill="#6b6b6b"/></g>
<polyline fill="none" stroke="#fa3232" stroke-width="3.0" stroke-linejoin="round" points="96.70,428.53 102.18,428.81 107.65,429.15 113.12,429.53 118.60,429.96 124.08,430.53 129.55,431.29 135.03,432.14 140.50,433.03 145.97,433.85 151.45,434.54 156.93,435.02 162.40,435.19 167.88,433.89 173.35,432.38 178.83,428.66 184.30,423.03 189.78,417.02 195.25,410.03 200.73,401.20 206.20,388.98 211.68,380.28 217.15,370.28 222.62,361.32 228.10,353.28 233.58,346.29 239.05,341.32 244.53,337.33 250.00,334.52 255.48,332.15 260.95,329.95 266.43,327.61 271.90,325.70 277.38,324.64 282.85,323.67 288.33,322.64 293.80,321.58 299.28,320.51 304.75,319.46 310.23,318.42 315.70,317.43 321.18,316.50 326.65,315.65 332.12,314.88 337.60,314.21 343.08,313.58 348.55,312.98 354.03,312.41 359.50,311.87 364.98,311.36 370.45,310.89 375.93,310.45 381.40,310.05 386.88,309.68 392.35,309.34 397.83,309.04 403.30,308.75 408.78,308.49 414.25,308.24 419.73,308.02 425.20,307.81 430.68,307.62 436.15,307.43 441.62,307.25 447.10,307.07 452.58,306.89 458.05,306.71 463.53,306.54 469.00,306.38 474.48,306.22 479.95,306.06 485.43,305.91 490.90,305.77 496.38,305.64 501.85,305.52 507.33,305.40 512.80,305.30 518.28,305.20 523.75,305.11 529.23,305.04 534.70,304.98"/>
<g><rect x="93.35" y="425.18" width="6.70" height="6.70" fill="#fa3232"/><rect x="98.83" y="425.46" width="6.70" height="6.70" fill="#fa3232"/><rect x="104.30" y="425.80" width="6.70" height="6.70" fill="#fa3232"/><rect x="109.78" y="426.18" width="6.70" height="6.70" fill="#fa3232"/><rect x="115.25" y="426.61" width="6.70" height="6.70" fill="#fa3232"/><rect x="120.73" y="427.18" width="6.70" height="6.70" fill="#fa3232"/><rect x="126.20" y="427.94" width="6.70" height="6.70" fill="#fa3232"/><rect x="131.68" y="428.79" width="6.70" height="6.70" fill="#fa3232"/><rect x="137.15" y="429.68" width="6.70" height="6.70" fill="#fa3232"/><rect x="142.62" y="430.50" width="6.70" height="6.70" fill="#fa3232"/><rect x="148.10" y="431.19" width="6.70" height="6.70" fill="#fa3232"/><rect x="153.58" y="431.67" width="6.70" height="6.70" fill="#fa3232"/><rect x="159.05" y="431.84" width="6.70" height="6.70" fill="#fa3232"/><rect x="164.53" y="430.54" width="6.70" height="6.70" fill="#fa3232"/><rect x="170.00" y="429.03" width="6.70" height="6.70" fill="#fa3232"/><rect x="175.48" y="425.31" width="6.70" height="6.70" fill="#fa3232"/><rect x="180.95" y="419.68" width="6.70" height="6.70" fill="#fa3232"/><rect x="186.43" y="413.67" width="6.70" height="6.70" fill="#fa3232"/><rect x="191.90" y="406.68" width="6.70" height="6.70" fill="#fa3232"/><rect x="197.38" y="397.85" width="6.70" height="6.70" fill="#fa3232"/><rect x="202.85" y="385.63" width="6.70" height="6.70" fill="#fa3232"/><rect x="208.33" y="376.93" width="6.70" height="6.70" fill="#fa3232"/><rect x="213.80" y="366.93" width="6.70" height="6.70" fill="#fa3232"/><rect x="219.28" y="357.97" width="6.70" height="6.70" fill="#fa3232"/><rect x="224.75" y="349.93" width="6.70" height="6.70" fill="#fa3232"/><rect x="230.23" y="342.94" width="6.70" height="6.70" fill="#fa3232"/><rect x="235.70" y="337.97" width="6.70" height="6.70" fill="#fa3232"/><rect x="241.18" y="333.98" width="6.70" height="6.70" fill="#fa3232"/><rect x="246.65" y="331.17" width="6.70" height="6.70" fill="#fa3232"/><rect x="252.13" y="328.80" width="6.70" height="6.70" fill="#fa3232"/><rect x="257.60" y="326.60" width="6.70" height="6.70" fill="#fa3232"/><rect x="263.07" y="324.26" width="6.70" height="6.70" fill="#fa3232"/><rect x="268.55" y="322.35" width="6.70" height="6.70" fill="#fa3232"/><rect x="274.02" y="321.29" width="6.70" height="6.70" fill="#fa3232"/><rect x="279.50" y="320.32" width="6.70" height="6.70" fill="#fa3232"/><rect x="284.98" y="319.29" width="6.70" height="6.70" fill="#fa3232"/><rect x="290.45" y="318.23" width="6.70" height="6.70" fill="#fa3232"/><rect x="295.93" y="317.16" width="6.70" height="6.70" fill="#fa3232"/><rect x="301.40" y="316.11" width="6.70" height="6.70" fill="#fa3232"/><rect x="306.88" y="315.07" width="6.70" height="6.70" fill="#fa3232"/><rect x="312.35" y="314.08" width="6.70" height="6.70" fill="#fa3232"/><rect x="317.82" y="313.15" width="6.70" height="6.70" fill="#fa3232"/><rect x="323.30" y="312.30" width="6.70" height="6.70" fill="#fa3232"/><rect x="328.77" y="311.53" width="6.70" height="6.70" fill="#fa3232"/><rect x="334.25" y="310.86" width="6.70" height="6.70" fill="#fa3232"/><rect x="339.73" y="310.23" width="6.70" height="6.70" fill="#fa3232"/><rect x="345.20" y="309.63" width="6.70" height="6.70" fill="#fa3232"/><rect x="350.68" y="309.06" width="6.70" height="6.70" fill="#fa3232"/><rect x="356.15" y="308.52" width="6.70" height="6.70" fill="#fa3232"/><rect x="361.62" y="308.01" width="6.70" height="6.70" fill="#fa3232"/><rect x="367.10" y="307.54" width="6.70" height="6.70" fill="#fa3232"/><rect x="372.57" y="307.10" width="6.70" height="6.70" fill="#fa3232"/><rect x="378.05" y="306.70" width="6.70" height="6.70" fill="#fa3232"/><rect x="383.52" y="306.33" width="6.70" height="6.70" fill="#fa3232"/><rect x="389.00" y="305.99" width="6.70" height="6.70" fill="#fa3232"/><rect x="394.48" y="305.69" width="6.70" height="6.70" fill="#fa3232"/><rect x="399.95" y="305.40" width="6.70" height="6.70" fill="#fa3232"/><rect x="405.43" y="305.14" width="6.70" height="6.70" fill="#fa3232"/><rect x="410.90" y="304.89" width="6.70" height="6.70" fill="#fa3232"/><rect x="416.38" y="304.67" width="6.70" height="6.70" fill="#fa3232"/><rect x="421.85" y="304.46" width="6.70" height="6.70" fill="#fa3232"/><rect x="427.32" y="304.27" width="6.70" height="6.70" fill="#fa3232"/><rect x="432.80" y="304.08" width="6.70" height="6.70" fill="#fa3232"/><rect x="438.27" y="303.90" width="6.70" height="6.70" fill="#fa3232"/><rect x="443.75" y="303.72" width="6.70" height="6.70" fill="#fa3232"/><rect x="449.23" y="303.54" width="6.70" height="6.70" fill="#fa3232"/><rect x="454.70" y="303.36" width="6.70" height="6.70" fill="#fa3232"/><rect x="460.18" y="303.19" width="6.70" height="6.70" fill="#fa3232"/><rect x="465.65" y="303.03" width="6.70" height="6.70" fill="#fa3232"/><rect x="471.13" y="302.87" width="6.70" height="6.70" fill="#fa3232"/><rect x="476.60" y="302.71" width="6.70" height="6.70" fill="#fa3232"/><rect x="482.07" y="302.56" width="6.70" height="6.70" fill="#fa3232"/><rect x="487.55" y="302.42" width="6.70" height="6.70" fill="#fa3232"/><rect x="493.03" y="302.29" width="6.70" height="6.70" fill="#fa3232"/><rect x="498.50" y="302.17" width="6.70" height="6.70" fill="#fa3232"/><rect x="503.98" y="302.05" width="6.70" height="6.70" fill="#fa3232"/><rect x="509.45" y="301.95" width="6.70" height="6.70" fill="#fa3232"/><rect x="514.93" y="301.85" width="6.70" height="6.70" fill="#fa3232"/><rect x="520.40" y="301.76" width="6.70" height="6.70" fill="#fa3232"/><rect x="525.88" y="301.69" width="6.70" height="6.70" fill="#fa3232"/><rect x="531.35" y="301.63" width="6.70" height="6.70" fill="#fa3232"/></g>
<polyline fill="none" stroke="#1467e3" stroke-width="3.0" stroke-linejoin="round" points="96.70,431.01 102.18,431.03 107.65,431.09 113.12,431.17 118.60,431.27 124.08,431.53 129.55,432.06 135.03,432.77 140.50,433.58 145.97,434.42 151.45,435.22 156.93,435.88 162.40,436.33 167.88,436.50 173.35,435.60 178.83,433.62 184.30,429.96 189.78,425.58 195.25,420.03 200.73,411.99 206.20,400.02 211.68,392.31 217.15,383.29 222.62,374.33 228.10,365.31 233.58,358.32 239.05,351.32 244.53,346.29 250.00,342.30 255.48,339.20 260.95,336.48 266.43,333.78 271.90,331.58 277.38,330.24 282.85,329.08 288.33,327.93 293.80,326.79 299.28,325.68 304.75,324.60 310.23,323.55 315.70,322.55 321.18,321.61 326.65,320.72 332.12,319.89 337.60,319.13 343.08,318.39 348.55,317.69 354.03,317.00 359.50,316.35 364.98,315.74 370.45,315.16 375.93,314.62 381.40,314.14 386.88,313.70 392.35,313.31 397.83,312.94 403.30,312.60 408.78,312.28 414.25,311.99 419.73,311.74 425.20,311.52 430.68,311.35 436.15,311.19 441.62,311.04 447.10,310.89 452.58,310.74 458.05,310.60 463.53,310.46 469.00,310.34 474.48,310.21 479.95,310.10 485.43,309.99 490.90,309.89 496.38,309.80 501.85,309.72 507.33,309.65 512.80,309.59 518.28,309.55 523.75,309.51 529.23,309.49 534.70,309.49"/>
<g><rect x="93.35" y="427.66" width="6.70" height="6.70" fill="#1467e3"/><rect x="98.83" y="427.68" width="6.70" height="6.70" fill="#1467e3"/><rect x="104.30" y="427.74" width="6.70" height="6.70" fill="#1467e3"/><rect x="109.78" y="427.82" width="6.70" height="6.70" fill="#1467e3"/><rect x="115.25" y="427.92" width="6.70" height="6.70" fill="#1467e3"/><rect x="120.73" y="428.18" width="6.70" height="6.70" fill="#1467e3"/><rect x="126.20" y="428.71" width="6.70" height="6.70" fill="#1467e3"/><rect x="131.68" y="429.42" width="6.70" height="6.70" fill="#1467e3"/><rect x="137.15" y="430.23" width="6.70" height="6.70" fill="#1467e3"/><rect x="142.62" y="431.07" width="6.70" height="6.70" fill="#1467e3"/><rect x="148.10" y="431.87" width="6.70" height="6.70" fill="#1467e3"/><rect x="153.58" y="432.53" width="6.70" height="6.70" fill="#1467e3"/><rect x="159.05" y="432.98" width="6.70" height="6.70" fill="#1467e3"/><rect x="164.53" y="433.15" width="6.70" height="6.70" fill="#1467e3"/><rect x="170.00" y="432.25" width="6.70" height="6.70" fill="#1467e3"/><rect x="175.48" y="430.27" width="6.70" height="6.70" fill="#1467e3"/><rect x="180.95" y="426.61" width="6.70" height="6.70" fill="#1467e3"/><rect x="186.43" y="422.23" width="6.70" height="6.70" fill="#1467e3"/><rect x="191.90" y="416.68" width="6.70" height="6.70" fill="#1467e3"/><rect x="197.38" y="408.64" width="6.70" height="6.70" fill="#1467e3"/><rect x="202.85" y="396.67" width="6.70" height="6.70" fill="#1467e3"/><rect x="208.33" y="388.96" width="6.70" height="6.70" fill="#1467e3"/><rect x="213.80" y="379.94" width="6.70" height="6.70" fill="#1467e3"/><rect x="219.28" y="370.98" width="6.70" height="6.70" fill="#1467e3"/><rect x="224.75" y="361.96" width="6.70" height="6.70" fill="#1467e3"/><rect x="230.23" y="354.97" width="6.70" height="6.70" fill="#1467e3"/><rect x="235.70" y="347.97" width="6.70" height="6.70" fill="#1467e3"/><rect x="241.18" y="342.94" width="6.70" height="6.70" fill="#1467e3"/><rect x="246.65" y="338.95" width="6.70" height="6.70" fill="#1467e3"/><rect x="252.13" y="335.85" width="6.70" height="6.70" fill="#1467e3"/><rect x="257.60" y="333.13" width="6.70" height="6.70" fill="#1467e3"/><rect x="263.07" y="330.43" width="6.70" height="6.70" fill="#1467e3"/><rect x="268.55" y="328.23" width="6.70" height="6.70" fill="#1467e3"/><rect x="274.02" y="326.89" width="6.70" height="6.70" fill="#1467e3"/><rect x="279.50" y="325.73" width="6.70" height="6.70" fill="#1467e3"/><rect x="284.98" y="324.58" width="6.70" height="6.70" fill="#1467e3"/><rect x="290.45" y="323.44" width="6.70" height="6.70" fill="#1467e3"/><rect x="295.93" y="322.33" width="6.70" height="6.70" fill="#1467e3"/><rect x="301.40" y="321.25" width="6.70" height="6.70" fill="#1467e3"/><rect x="306.88" y="320.20" width="6.70" height="6.70" fill="#1467e3"/><rect x="312.35" y="319.20" width="6.70" height="6.70" fill="#1467e3"/><rect x="317.82" y="318.26" width="6.70" height="6.70" fill="#1467e3"/><rect x="323.30" y="317.37" width="6.70" height="6.70" fill="#1467e3"/><rect x="328.77" y="316.54" width="6.70" height="6.70" fill="#1467e3"/><rect x="334.25" y="315.78" width="6.70" height="6.70" fill="#1467e3"/><rect x="339.73" y="315.04" width="6.70" height="6.70" fill="#1467e3"/><rect x="345.20" y="314.34" width="6.70" height="6.70" fill="#1467e3"/><rect x="350.68" y="313.65" width="6.70" height="6.70" fill="#1467e3"/><rect x="356.15" y="313.00" width="6.70" height="6.70" fill="#1467e3"/><rect x="361.62" y="312.39" width="6.70" height="6.70" fill="#1467e3"/><rect x="367.10" y="311.81" width="6.70" height="6.70" fill="#1467e3"/><rect x="372.57" y="311.27" width="6.70" height="6.70" fill="#1467e3"/><rect x="378.05" y="310.79" width="6.70" height="6.70" fill="#1467e3"/><rect x="383.52" y="310.35" width="6.70" height="6.70" fill="#1467e3"/><rect x="389.00" y="309.96" width="6.70" height="6.70" fill="#1467e3"/><rect x="394.48" y="309.59" width="6.70" height="6.70" fill="#1467e3"/><rect x="399.95" y="309.25" width="6.70" height="6.70" fill="#1467e3"/><rect x="405.43" y="308.93" width="6.70" height="6.70" fill="#1467e3"/><rect x="410.90" y="308.64" width="6.70" height="6.70" fill="#1467e3"/><rect x="416.38" y="308.39" width="6.70" height="6.70" fill="#1467e3"/><rect x="421.85" y="308.17" width="6.70" height="6.70" fill="#1467e3"/><rect x="427.32" y="308.00" width="6.70" height="6.70" fill="#1467e3"/><rect x="432.80" y="307.84" width="6.70" height="6.70" fill="#1467e3"/><rect x="438.27" y="307.69" width="6.70" height="6.70" fill="#1467e3"/><rect x="443.75" y="307.54" width="6.70" height="6.70" fill="#1467e3"/><rect x="449.23" y="307.39" width="6.70" height="6.70" fill="#1467e3"/><rect x="454.70" y="307.25" width="6.70" height="6.70" fill="#1467e3"/><rect x="460.18" y="307.11" width="6.70" height="6.70" fill="#1467e3"/><rect x="465.65" y="306.99" width="6.70" height="6.70" fill="#1467e3"/><rect x="471.13" y="306.86" width="6.70" height="6.70" fill="#1467e3"/><rect x="476.60" y="306.75" width="6.70" height="6.70" fill="#1467e3"/><rect x="482.07" y="306.64" width="6.70" height="6.70" fill="#1467e3"/><rect x="487.55" y="306.54" width="6.70" height="6.70" fill="#1467e3"/><rect x="493.03" y="306.45" width="6.70" height="6.70" fill="#1467e3"/><rect x="498.50" y="306.37" width="6.70" height="6.70" fill="#1467e3"/><rect x="503.98" y="306.30" width="6.70" height="6.70" fill="#1467e3"/><rect x="509.45" y="306.24" width="6.70" height="6.70" fill="#1467e3"/><rect x="514.93" y="306.20" width="6.70" height="6.70" fill="#1467e3"/><rect x="520.40" y="306.16" width="6.70" height="6.70" fill="#1467e3"/><rect x="525.88" y="306.14" width="6.70" height="6.70" fill="#1467e3"/><rect x="531.35" y="306.14" width="6.70" height="6.70" fill="#1467e3"/></g>
<polyline fill="none" stroke="#14a65a" stroke-width="3.0" stroke-linejoin="round" points="96.70,432.58 102.18,432.12 107.65,431.80 113.12,431.61 118.60,431.53 124.08,431.66 129.55,432.13 135.03,432.85 140.50,433.74 145.97,434.70 151.45,435.64 156.93,436.48 162.40,437.11 167.88,437.45 173.35,437.38 178.83,436.85 184.30,435.98 189.78,433.68 195.25,429.60 200.73,424.84 206.20,418.67 211.68,411.26 217.15,403.29 222.62,394.34 228.10,385.32 233.58,376.29 239.05,368.32 244.53,361.32 250.00,355.31 255.48,350.28 260.95,346.29 266.43,342.92 271.90,339.88 277.38,336.98 282.85,334.95 288.33,333.24 293.80,331.68 299.28,330.26 304.75,328.96 310.23,327.77 315.70,326.68 321.18,325.68 326.65,324.76 332.12,323.90 337.60,323.09 343.08,322.32 348.55,321.58 354.03,320.88 359.50,320.22 364.98,319.61 370.45,319.05 375.93,318.54 381.40,318.09 386.88,317.71 392.35,317.39 397.83,317.12 403.30,316.87 408.78,316.65 414.25,316.45 419.73,316.27 425.20,316.09 430.68,315.92 436.15,315.76 441.62,315.59 447.10,315.43 452.58,315.27 458.05,315.11 463.53,314.96 469.00,314.81 474.48,314.66 479.95,314.52 485.43,314.39 490.90,314.26 496.38,314.14 501.85,314.02 507.33,313.91 512.80,313.81 518.28,313.71 523.75,313.62 529.23,313.54 534.70,313.47"/>
<g><rect x="93.35" y="429.23" width="6.70" height="6.70" fill="#14a65a"/><rect x="98.83" y="428.77" width="6.70" height="6.70" fill="#14a65a"/><rect x="104.30" y="428.45" width="6.70" height="6.70" fill="#14a65a"/><rect x="109.78" y="428.26" width="6.70" height="6.70" fill="#14a65a"/><rect x="115.25" y="428.18" width="6.70" height="6.70" fill="#14a65a"/><rect x="120.73" y="428.31" width="6.70" height="6.70" fill="#14a65a"/><rect x="126.20" y="428.78" width="6.70" height="6.70" fill="#14a65a"/><rect x="131.68" y="429.50" width="6.70" height="6.70" fill="#14a65a"/><rect x="137.15" y="430.39" width="6.70" height="6.70" fill="#14a65a"/><rect x="142.62" y="431.35" width="6.70" height="6.70" fill="#14a65a"/><rect x="148.10" y="432.29" width="6.70" height="6.70" fill="#14a65a"/><rect x="153.58" y="433.13" width="6.70" height="6.70" fill="#14a65a"/><rect x="159.05" y="433.76" width="6.70" height="6.70" fill="#14a65a"/><rect x="164.53" y="434.10" width="6.70" height="6.70" fill="#14a65a"/><rect x="170.00" y="434.03" width="6.70" height="6.70" fill="#14a65a"/><rect x="175.48" y="433.50" width="6.70" height="6.70" fill="#14a65a"/><rect x="180.95" y="432.63" width="6.70" height="6.70" fill="#14a65a"/><rect x="186.43" y="430.33" width="6.70" height="6.70" fill="#14a65a"/><rect x="191.90" y="426.25" width="6.70" height="6.70" fill="#14a65a"/><rect x="197.38" y="421.49" width="6.70" height="6.70" fill="#14a65a"/><rect x="202.85" y="415.32" width="6.70" height="6.70" fill="#14a65a"/><rect x="208.33" y="407.91" width="6.70" height="6.70" fill="#14a65a"/><rect x="213.80" y="399.94" width="6.70" height="6.70" fill="#14a65a"/><rect x="219.28" y="390.99" width="6.70" height="6.70" fill="#14a65a"/><rect x="224.75" y="381.97" width="6.70" height="6.70" fill="#14a65a"/><rect x="230.23" y="372.94" width="6.70" height="6.70" fill="#14a65a"/><rect x="235.70" y="364.97" width="6.70" height="6.70" fill="#14a65a"/><rect x="241.18" y="357.97" width="6.70" height="6.70" fill="#14a65a"/><rect x="246.65" y="351.96" width="6.70" height="6.70" fill="#14a65a"/><rect x="252.13" y="346.93" width="6.70" height="6.70" fill="#14a65a"/><rect x="257.60" y="342.94" width="6.70" height="6.70" fill="#14a65a"/><rect x="263.07" y="339.57" width="6.70" height="6.70" fill="#14a65a"/><rect x="268.55" y="336.53" width="6.70" height="6.70" fill="#14a65a"/><rect x="274.02" y="333.63" width="6.70" height="6.70" fill="#14a65a"/><rect x="279.50" y="331.60" width="6.70" height="6.70" fill="#14a65a"/><rect x="284.98" y="329.89" width="6.70" height="6.70" fill="#14a65a"/><rect x="290.45" y="328.33" width="6.70" height="6.70" fill="#14a65a"/><rect x="295.93" y="326.91" width="6.70" height="6.70" fill="#14a65a"/><rect x="301.40" y="325.61" width="6.70" height="6.70" fill="#14a65a"/><rect x="306.88" y="324.42" width="6.70" height="6.70" fill="#14a65a"/><rect x="312.35" y="323.33" width="6.70" height="6.70" fill="#14a65a"/><rect x="317.82" y="322.33" width="6.70" height="6.70" fill="#14a65a"/><rect x="323.30" y="321.41" width="6.70" height="6.70" fill="#14a65a"/><rect x="328.77" y="320.55" width="6.70" height="6.70" fill="#14a65a"/><rect x="334.25" y="319.74" width="6.70" height="6.70" fill="#14a65a"/><rect x="339.73" y="318.97" width="6.70" height="6.70" fill="#14a65a"/><rect x="345.20" y="318.23" width="6.70" height="6.70" fill="#14a65a"/><rect x="350.68" y="317.53" width="6.70" height="6.70" fill="#14a65a"/><rect x="356.15" y="316.87" width="6.70" height="6.70" fill="#14a65a"/><rect x="361.62" y="316.26" width="6.70" height="6.70" fill="#14a65a"/><rect x="367.10" y="315.70" width="6.70" height="6.70" fill="#14a65a"/><rect x="372.57" y="315.19" width="6.70" height="6.70" fill="#14a65a"/><rect x="378.05" y="314.74" width="6.70" height="6.70" fill="#14a65a"/><rect x="383.52" y="314.36" width="6.70" height="6.70" fill="#14a65a"/><rect x="389.00" y="314.04" width="6.70" height="6.70" fill="#14a65a"/><rect x="394.48" y="313.77" width="6.70" height="6.70" fill="#14a65a"/><rect x="399.95" y="313.52" width="6.70" height="6.70" fill="#14a65a"/><rect x="405.43" y="313.30" width="6.70" height="6.70" fill="#14a65a"/><rect x="410.90" y="313.10" width="6.70" height="6.70" fill="#14a65a"/><rect x="416.38" y="312.92" width="6.70" height="6.70" fill="#14a65a"/><rect x="421.85" y="312.74" width="6.70" height="6.70" fill="#14a65a"/><rect x="427.32" y="312.57" width="6.70" height="6.70" fill="#14a65a"/><rect x="432.80" y="312.41" width="6.70" height="6.70" fill="#14a65a"/><rect x="438.27" y="312.24" width="6.70" height="6.70" fill="#14a65a"/><rect x="443.75" y="312.08" width="6.70" height="6.70" fill="#14a65a"/><rect x="449.23" y="311.92" width="6.70" height="6.70" fill="#14a65a"/><rect x="454.70" y="311.76" width="6.70" height="6.70" fill="#14a65a"/><rect x="460.18" y="311.61" width="6.70" height="6.70" fill="#14a65a"/><rect x="465.65" y="311.46" width="6.70" height="6.70" fill="#14a65a"/><rect x="471.13" y="311.31" width="6.70" height="6.70" fill="#14a65a"/><rect x="476.60" y="311.17" width="6.70" height="6.70" fill="#14a65a"/><rect x="482.07" y="311.04" width="6.70" height="6.70" fill="#14a65a"/><rect x="487.55" y="310.91" width="6.70" height="6.70" fill="#14a65a"/><rect x="493.03" y="310.79" width="6.70" height="6.70" fill="#14a65a"/><rect x="498.50" y="310.67" width="6.70" height="6.70" fill="#14a65a"/><rect x="503.98" y="310.56" width="6.70" height="6.70" fill="#14a65a"/><rect x="509.45" y="310.46" width="6.70" height="6.70" fill="#14a65a"/><rect x="514.93" y="310.36" width="6.70" height="6.70" fill="#14a65a"/><rect x="520.40" y="310.27" width="6.70" height="6.70" fill="#14a65a"/><rect x="525.88" y="310.19" width="6.70" height="6.70" fill="#14a65a"/><rect x="531.35" y="310.12" width="6.70" height="6.70" fill="#14a65a"/></g>
<polyline fill="none" stroke="#c079e6" stroke-width="3.0" stroke-linejoin="round" points="96.70,439.51 102.18,439.05 107.65,438.73 113.12,438.54 118.60,438.46 124.08,438.59 129.55,439.06 135.03,439.81 140.50,440.72 145.97,441.73 151.45,442.74 156.93,443.65 162.40,444.40 167.88,444.87 173.35,444.99 178.83,444.65 184.30,444.02 189.78,442.82 195.25,440.81 200.73,438.15 206.20,433.85 211.68,428.03 217.15,421.27 222.62,414.16 228.10,407.28 233.58,400.29 239.05,392.31 244.53,385.32 250.00,379.30 255.48,374.33 260.95,370.28 266.43,367.27 271.90,363.61 277.38,361.69 282.85,360.30 288.33,359.00 293.80,357.79 299.28,356.64 304.75,355.57 310.23,354.58 315.70,353.65 321.18,352.81 326.65,352.03 332.12,351.33 337.60,350.70 343.08,350.10 348.55,349.54 354.03,349.00 359.50,348.50 364.98,348.04 370.45,347.61 375.93,347.22 381.40,346.87 386.88,346.57 392.35,346.31 397.83,346.05 403.30,345.80 408.78,345.56 414.25,345.31 419.73,345.08 425.20,344.84 430.68,344.62 436.15,344.40 441.62,344.18 447.10,343.98 452.58,343.78 458.05,343.59 463.53,343.41 469.00,343.24 474.48,343.08 479.95,342.93 485.43,342.80 490.90,342.67 496.38,342.56 501.85,342.46 507.33,342.37 512.80,342.30 518.28,342.25 523.75,342.20 529.23,342.18 534.70,342.17"/>
<g><rect x="93.35" y="436.16" width="6.70" height="6.70" fill="#c079e6"/><rect x="98.83" y="435.70" width="6.70" height="6.70" fill="#c079e6"/><rect x="104.30" y="435.38" width="6.70" height="6.70" fill="#c079e6"/><rect x="109.78" y="435.19" width="6.70" height="6.70" fill="#c079e6"/><rect x="115.25" y="435.11" width="6.70" height="6.70" fill="#c079e6"/><rect x="120.73" y="435.24" width="6.70" height="6.70" fill="#c079e6"/><rect x="126.20" y="435.71" width="6.70" height="6.70" fill="#c079e6"/><rect x="131.68" y="436.46" width="6.70" height="6.70" fill="#c079e6"/><rect x="137.15" y="437.37" width="6.70" height="6.70" fill="#c079e6"/><rect x="142.62" y="438.38" width="6.70" height="6.70" fill="#c079e6"/><rect x="148.10" y="439.39" width="6.70" height="6.70" fill="#c079e6"/><rect x="153.58" y="440.30" width="6.70" height="6.70" fill="#c079e6"/><rect x="159.05" y="441.05" width="6.70" height="6.70" fill="#c079e6"/><rect x="164.53" y="441.52" width="6.70" height="6.70" fill="#c079e6"/><rect x="170.00" y="441.64" width="6.70" height="6.70" fill="#c079e6"/><rect x="175.48" y="441.30" width="6.70" height="6.70" fill="#c079e6"/><rect x="180.95" y="440.67" width="6.70" height="6.70" fill="#c079e6"/><rect x="186.43" y="439.47" width="6.70" height="6.70" fill="#c079e6"/><rect x="191.90" y="437.46" width="6.70" height="6.70" fill="#c079e6"/><rect x="197.38" y="434.80" width="6.70" height="6.70" fill="#c079e6"/><rect x="202.85" y="430.50" width="6.70" height="6.70" fill="#c079e6"/><rect x="208.33" y="424.68" width="6.70" height="6.70" fill="#c079e6"/><rect x="213.80" y="417.92" width="6.70" height="6.70" fill="#c079e6"/><rect x="219.28" y="410.81" width="6.70" height="6.70" fill="#c079e6"/><rect x="224.75" y="403.93" width="6.70" height="6.70" fill="#c079e6"/><rect x="230.23" y="396.94" width="6.70" height="6.70" fill="#c079e6"/><rect x="235.70" y="388.96" width="6.70" height="6.70" fill="#c079e6"/><rect x="241.18" y="381.97" width="6.70" height="6.70" fill="#c079e6"/><rect x="246.65" y="375.95" width="6.70" height="6.70" fill="#c079e6"/><rect x="252.13" y="370.98" width="6.70" height="6.70" fill="#c079e6"/><rect x="257.60" y="366.93" width="6.70" height="6.70" fill="#c079e6"/><rect x="263.07" y="363.92" width="6.70" height="6.70" fill="#c079e6"/><rect x="268.55" y="360.26" width="6.70" height="6.70" fill="#c079e6"/><rect x="274.02" y="358.34" width="6.70" height="6.70" fill="#c079e6"/><rect x="279.50" y="356.95" width="6.70" height="6.70" fill="#c079e6"/><rect x="284.98" y="355.65" width="6.70" height="6.70" fill="#c079e6"/><rect x="290.45" y="354.44" width="6.70" height="6.70" fill="#c079e6"/><rect x="295.93" y="353.29" width="6.70" height="6.70" fill="#c079e6"/><rect x="301.40" y="352.22" width="6.70" height="6.70" fill="#c079e6"/><rect x="306.88" y="351.23" width="6.70" height="6.70" fill="#c079e6"/><rect x="312.35" y="350.30" width="6.70" height="6.70" fill="#c079e6"/><rect x="317.82" y="349.46" width="6.70" height="6.70" fill="#c079e6"/><rect x="323.30" y="348.68" width="6.70" height="6.70" fill="#c079e6"/><rect x="328.77" y="347.98" width="6.70" height="6.70" fill="#c079e6"/><rect x="334.25" y="347.35" width="6.70" height="6.70" fill="#c079e6"/><rect x="339.73" y="346.75" width="6.70" height="6.70" fill="#c079e6"/><rect x="345.20" y="346.19" width="6.70" height="6.70" fill="#c079e6"/><rect x="350.68" y="345.65" width="6.70" height="6.70" fill="#c079e6"/><rect x="356.15" y="345.15" width="6.70" height="6.70" fill="#c079e6"/><rect x="361.62" y="344.69" width="6.70" height="6.70" fill="#c079e6"/><rect x="367.10" y="344.26" width="6.70" height="6.70" fill="#c079e6"/><rect x="372.57" y="343.87" width="6.70" height="6.70" fill="#c079e6"/><rect x="378.05" y="343.52" width="6.70" height="6.70" fill="#c079e6"/><rect x="383.52" y="343.22" width="6.70" height="6.70" fill="#c079e6"/><rect x="389.00" y="342.96" width="6.70" height="6.70" fill="#c079e6"/><rect x="394.48" y="342.70" width="6.70" height="6.70" fill="#c079e6"/><rect x="399.95" y="342.45" width="6.70" height="6.70" fill="#c079e6"/><rect x="405.43" y="342.21" width="6.70" height="6.70" fill="#c079e6"/><rect x="410.90" y="341.96" width="6.70" height="6.70" fill="#c079e6"/><rect x="416.38" y="341.73" width="6.70" height="6.70" fill="#c079e6"/><rect x="421.85" y="341.49" width="6.70" height="6.70" fill="#c079e6"/><rect x="427.32" y="341.27" width="6.70" height="6.70" fill="#c079e6"/><rect x="432.80" y="341.05" width="6.70" height="6.70" fill="#c079e6"/><rect x="438.27" y="340.83" width="6.70" height="6.70" fill="#c079e6"/><rect x="443.75" y="340.63" width="6.70" height="6.70" fill="#c079e6"/><rect x="449.23" y="340.43" width="6.70" height="6.70" fill="#c079e6"/><rect x="454.70" y="340.24" width="6.70" height="6.70" fill="#c079e6"/><rect x="460.18" y="340.06" width="6.70" height="6.70" fill="#c079e6"/><rect x="465.65" y="339.89" width="6.70" height="6.70" fill="#c079e6"/><rect x="471.13" y="339.73" width="6.70" height="6.70" fill="#c079e6"/><rect x="476.60" y="339.58" width="6.70" height="6.70" fill="#c079e6"/><rect x="482.07" y="339.45" width="6.70" height="6.70" fill="#c079e6"/><rect x="487.55" y="339.32" width="6.70" height="6.70" fill="#c079e6"/><rect x="493.03" y="339.21" width="6.70" height="6.70" fill="#c079e6"/><rect x="498.50" y="339.11" width="6.70" height="6.70" fill="#c079e6"/><rect x="503.98" y="339.02" width="6.70" height="6.70" fill="#c079e6"/><rect x="509.45" y="338.95" width="6.70" height="6.70" fill="#c079e6"/><rect x="514.93" y="338.90" width="6.70" height="6.70" fill="#c079e6"/><rect x="520.40" y="338.85" width="6.70" height="6.70" fill="#c079e6"/><rect x="525.88" y="338.83" width="6.70" height="6.70" fill="#c079e6"/><rect x="531.35" y="338.82" width="6.70" height="6.70" fill="#c079e6"/></g>
</g>
<g font-family="'Liberation Serif', 'Times New Roman', serif" font-weight="bold" fill="#000">
<text x="86" y="253.1" font-size="32" text-anchor="end">0.0</text>
<text x="86" y="187.4" font-size="32" text-anchor="end">0.1</text>
<text x="86" y="121.7" font-size="32" text-anchor="end">0.2</text>
<text x="86" y="56.0" font-size="32" text-anchor="end">0.3</text>
<text x="86" y="482.6" font-size="32" text-anchor="end">0.0</text>
<text x="86" y="416.5" font-size="32" text-anchor="end">0.1</text>
<text x="86" y="351.2" font-size="32" text-anchor="end">0.2</text>
<text x="86" y="285.8" font-size="32" text-anchor="end">0.3</text>
<text x="96.0" y="507.9" font-size="32" text-anchor="middle">-2</text>
<text x="205.5" y="507.9" font-size="32" text-anchor="middle">-1</text>
<text x="315.0" y="507.9" font-size="32" text-anchor="middle">0</text>
<text x="424.5" y="507.9" font-size="32" text-anchor="middle">1</text>
<text x="534.0" y="507.9" font-size="32" text-anchor="middle">2</text>
<text x="315.8" y="532.8" font-size="32" text-anchor="middle">Voltage (V)</text>
<text transform="translate(35.8 261.4) rotate(-90)" font-size="32" text-anchor="middle">Capacitance (μF/cm<tspan font-size="20.5" dy="-13.5">2</tspan><tspan dy="13.5">)</tspan></text>
</g>
<g font-family="'Liberation Serif', 'Times New Roman', serif" font-weight="bold" fill="#ff0000" font-size="25">
<text x="109.6" y="39.4">Ø 320 μm w/ encap.</text>
<text x="109.3" y="270.4">Ø 320 μm w/o encap.</text>
</g>
<g font-family="'Liberation Serif', 'Times New Roman', serif" font-weight="bold" font-size="18.7" fill="#000">
<line x1="357.4" y1="143.9" x2="387.5" y2="143.9" stroke="#6b6b6b" stroke-width="2.9"/>
<rect x="367.80" y="139.70" width="9.20" height="9.20" fill="#6b6b6b"/>
<text x="395.1" y="150.4">planar</text>
<line x1="357.4" y1="163.5" x2="387.5" y2="163.5" stroke="#fa3232" stroke-width="2.9"/>
<circle cx="372.40" cy="163.50" r="5.50" fill="#fa3232"/>
<text x="395.1" y="170.0">concave110.5mm</text>
<line x1="357.4" y1="183.0" x2="387.5" y2="183.0" stroke="#1467e3" stroke-width="2.9"/>
<path d="M372.40 175.85L378.90 187.81L365.90 187.81Z" fill="#1467e3"/>
<text x="395.1" y="189.5">concave85mm</text>
<line x1="357.4" y1="202.2" x2="387.5" y2="202.2" stroke="#14a65a" stroke-width="2.9"/>
<path d="M372.40 209.35L378.90 197.39L365.90 197.39Z" fill="#14a65a"/>
<text x="395.1" y="208.7">convex77.5mm</text>
<line x1="357.4" y1="221.6" x2="387.5" y2="221.6" stroke="#c079e6" stroke-width="2.9"/>
<path d="M372.40 214.50L379.50 221.60L372.40 228.70L365.30 221.60Z" fill="#c079e6"/>
<text x="395.1" y="228.1">convex38.5mm</text>
</g>
</svg>
</body></html>
